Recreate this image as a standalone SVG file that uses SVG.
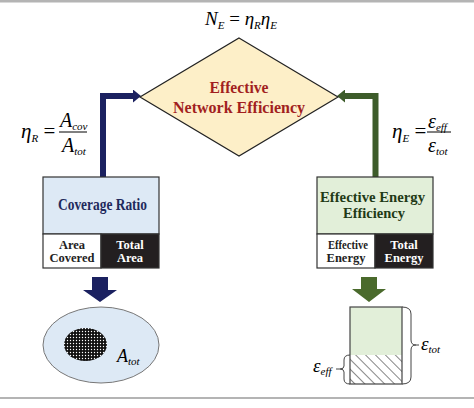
<svg xmlns="http://www.w3.org/2000/svg" width="474" height="408" viewBox="0 0 474 408">
<style>
.lbl{font-family:"Liberation Serif","Times New Roman",serif;font-weight:bold;text-anchor:middle}
.math{font-family:"Liberation Serif","Times New Roman",serif;font-style:italic}
.mathn{font-family:"Liberation Serif","Times New Roman",serif}
.sub{font-family:"Liberation Serif","Times New Roman",serif;font-style:italic;font-size:11px}
.box{stroke:#333;stroke-width:1.2}
</style>
<defs>
<marker id="arN" markerUnits="userSpaceOnUse" viewBox="0 0 8 13" refX="0" refY="6.5" markerWidth="8" markerHeight="13" orient="auto"><path d="M0,0 L8,6.5 L0,13 z" fill="#1b2160"/></marker>
<marker id="arG" markerUnits="userSpaceOnUse" viewBox="0 0 8 13" refX="0" refY="6.5" markerWidth="8" markerHeight="13" orient="auto"><path d="M0,0 L8,6.5 L0,13 z" fill="#3d5c2a"/></marker>
<pattern id="dots" patternUnits="userSpaceOnUse" width="3" height="3"><rect width="3" height="3" fill="#111"/><circle cx="1.5" cy="1.5" r="0.7" fill="#fff"/></pattern>
<pattern id="hatch" patternUnits="userSpaceOnUse" width="7" height="7" patternTransform="rotate(-45)"><rect width="7" height="7" fill="#fff"/><line x1="0" y1="0" x2="0" y2="7" stroke="#222" stroke-width="1.1"/></pattern>
</defs>
<rect width="474" height="408" fill="#fff"/>
<rect x="0" y="0" width="474" height="2.5" fill="#b4b4b4"/>
<rect x="0" y="397" width="474" height="2" fill="#b4b4b4"/>

<g id="formula-top">
<text class="math" x="205" y="25" font-size="19">N<tspan class="sub" dy="4">E</tspan><tspan class="mathn" dy="-4" font-style="normal"> = </tspan>η<tspan class="sub" dy="4">R</tspan><tspan dy="-4">η</tspan><tspan class="sub" dy="4">E</tspan></text>
</g>

<g id="connectors">
<path d="M103,177 V96 H133" fill="none" stroke="#1b2160" stroke-width="6" marker-end="url(#arN)"/>
<path d="M375.5,177 V96 H345" fill="none" stroke="#3d5c2a" stroke-width="6" marker-end="url(#arG)"/>
<polygon points="92,277 108,277 108,290 117,290 100,302 83,290 92,290" fill="#1b2160"/>
<polygon points="361,277 377,277 377,289 386,289 369,302 352,289 361,289" fill="#4a6a2c"/>
</g>

<g id="diamond">
<polygon points="239,38 338,97 239,156 140,97" fill="#fdefc8" stroke="#222" stroke-width="1.2"/>
<text class="lbl" x="239" y="93" font-size="17" fill="#a21f1f" textLength="59" lengthAdjust="spacingAndGlyphs">Effective</text>
<text class="lbl" x="239" y="113" font-size="17" fill="#a21f1f" textLength="132" lengthAdjust="spacingAndGlyphs">Network Efficiency</text>
</g>

<g id="formula-left">
<text class="math" x="21" y="138" font-size="21">η<tspan class="sub" dy="4">R</tspan><tspan class="mathn" font-style="normal" dy="-4" font-size="21"> =</tspan></text>
<line x1="59" y1="132" x2="87" y2="132" stroke="#000" stroke-width="1"/>
<text class="math" x="60" y="127" font-size="20">A<tspan class="sub" dy="3">cov</tspan></text>
<text class="math" x="62" y="152" font-size="20">A<tspan class="sub" dy="3">tot</tspan></text>
</g>

<g id="formula-right">
<text class="math" x="392" y="138" font-size="21">η<tspan class="sub" dy="4">E</tspan><tspan class="mathn" font-style="normal" dy="-4" font-size="21"> =</tspan></text>
<line x1="427" y1="132" x2="451" y2="132" stroke="#000" stroke-width="1"/>
<text class="math" x="428" y="128" font-size="20">ε<tspan class="sub" dy="3">eff</tspan></text>
<text class="math" x="428" y="152" font-size="20">ε<tspan class="sub" dy="3">tot</tspan></text>
</g>

<g id="coverage-ratio">
<rect class="box" x="43" y="177" width="116" height="57" fill="#dde9f5"/>
<rect class="box" x="43" y="234" width="58" height="34" fill="#fff"/>
<rect class="box" x="101" y="234" width="58" height="34" fill="#231f20"/>
<text class="lbl" x="102.5" y="210" font-size="16" fill="#1f2a5c" textLength="89" lengthAdjust="spacingAndGlyphs">Coverage Ratio</text>
<text class="lbl" x="72" y="249" font-size="12.5" fill="#222">Area</text>
<text class="lbl" x="72" y="262" font-size="12.5" fill="#222">Covered</text>
<text class="lbl" x="130" y="249" font-size="12.5" fill="#fff">Total</text>
<text class="lbl" x="130" y="262" font-size="12.5" fill="#fff">Area</text>
</g>

<g id="energy-efficiency">
<rect class="box" x="317" y="177" width="116" height="57" fill="#e2efd9"/>
<rect class="box" x="317" y="234" width="58" height="34" fill="#fff"/>
<rect class="box" x="375" y="234" width="58" height="34" fill="#231f20"/>
<text class="lbl" x="372.5" y="202" font-size="14.5" fill="#1f3a16" textLength="105" lengthAdjust="spacingAndGlyphs">Effective Energy</text>
<text class="lbl" x="374" y="218" font-size="14.5" fill="#1f3a16">Efficiency</text>
<text class="lbl" x="348" y="249" font-size="12" fill="#222" textLength="40" lengthAdjust="spacingAndGlyphs">Effective</text>
<text class="lbl" x="346" y="262" font-size="12.5" fill="#222">Energy</text>
<text class="lbl" x="404" y="249" font-size="12.5" fill="#fff">Total</text>
<text class="lbl" x="404" y="262" font-size="12.5" fill="#fff">Energy</text>
</g>

<g id="area-illustration">
<ellipse cx="101" cy="345" rx="58" ry="38" fill="#dde9f5" stroke="#777" stroke-width="1"/>
<ellipse cx="85.5" cy="344.5" rx="21.5" ry="16.5" fill="url(#dots)"/>
<text class="math" x="117" y="362" font-size="18">A<tspan class="sub" dy="3">tot</tspan></text>
</g>

<g id="energy-illustration">
<rect x="350" y="307" width="52" height="48" fill="#e2efd9"/>
<rect x="350" y="355" width="52" height="29" fill="url(#hatch)"/>
<rect x="350" y="307" width="52" height="77" fill="none" stroke="#444" stroke-width="1.2"/>
<path d="M402,307 Q411,307 411,314 V340 Q411,345 416,345 Q411,345 411,350 V377 Q411,384 402,384" fill="none" stroke="#444" stroke-width="1"/>
<line x1="416" y1="345" x2="419" y2="345" stroke="#444" stroke-width="1"/>
<path d="M350,355 Q344,355 344,360 V366 Q344,369 340,369 Q344,369 344,372 V379 Q344,384 350,384" fill="none" stroke="#444" stroke-width="1"/>
<line x1="336" y1="369" x2="340" y2="369" stroke="#444" stroke-width="1"/>
<text class="math" x="421" y="350" font-size="19">ε<tspan class="sub" dy="3">tot</tspan></text>
<text class="math" x="313" y="372" font-size="19">ε<tspan class="sub" dy="3">eff</tspan></text>
</g>
</svg>
